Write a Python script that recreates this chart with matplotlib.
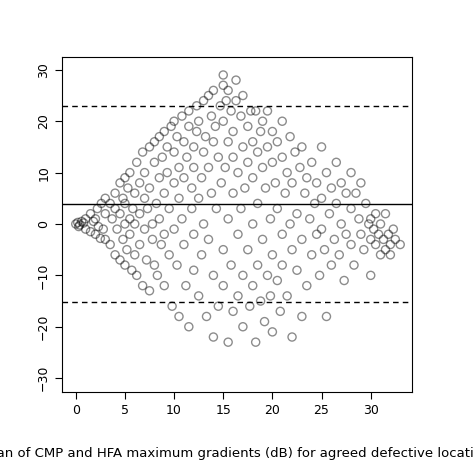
import matplotlib
matplotlib.use("Agg")
import matplotlib.pyplot as plt

points = [
(0,0),(0.2,0.3),(0.4,-0.2),(0.6,0.5),(0.3,-0.5),(0.8,0.2),(1,-1),(1,1),
(1.5,2),(1.5,-1.5),(2,-2),(2,1),(2.2,3),(2.5,-2.8),(2.8,-1),(2.6,4),(1.8,0.5),(2.3,-0.5),(3,2),(3,-3),(3,5),
(3.5,4),(3.5,-4),(3.7,1),(4,6),(4,-6),(4,3),(4.2,-1),(4.5,8),(4.5,-7),(4.5,2),(4.8,-3),(4.8,5),(5,9),(5,-8),(5,0),(5,4),(5.2,-5),(5.3,7),(5.5,1),(5.5,-2),(5.5,10),(5.7,-9),(5.8,3),(6,6),(6,-6),(6,0),
(6.2,12),(6.2,-10),(6.5,8),(6.5,2),(6.5,-4),(6.8,14),(6.8,-12),(7,5),(7,-1),(7,10),(7.2,-7),(7.3,3),(7.5,15),(7.5,-13),(7.5,7),(7.8,0),(7.8,-3),(8,12),(8,16),(8,-8),
(8.2,4),(8.3,-10),(8.5,17),(8.5,9),(8.5,1),(8.7,-4),(8.8,13),(9,18),(9,6),(9,-2),(9,-12),(9.3,15),(9.3,10),(9.5,3),(9.5,-6),(9.7,19),(9.8,-16),(10,20),(10,8),(10,-1),(10,14),
(10.3,17),(10.3,-8),(10.5,5),(10.5,11),(10.5,-18),(10.8,21),(10.8,1),(11,16),(11,-4),(11,9),(11.2,-12),(11.3,13),(11.5,19),(11.5,22),(11.5,-20),(11.8,3),(11.8,7),(12,15),(12,-2),(12,11),(12,-9),
(12.3,23),(12.3,18),(12.5,20),(12.5,5),(12.5,-14),(12.8,9),(12.8,-6),(13,24),(13,14),(13,0),(13.2,17),(13.3,-18),(13.5,25),(13.5,11),(13.5,-3),(13.8,21),(13.8,6),(14,26),(14,16),(14,-10),(14,-22),
(14.2,19),(14.3,3),(14.5,13),(14.5,-16),(14.7,23),(14.8,8),(15,29),(15,27),(15,20),(15,-5),(15,-12),(15.2,11),(15.3,24),(15.5,26),(15.5,16),(15.5,1),(15.5,-23),(15.8,22),(15.8,-8),(16,18),(16,6),(16,-17),(16,13),
(16.3,28),(16.3,24),(16.5,10),(16.5,-2),(16.5,-14),(16.8,21),(16.8,3),(17,25),(17,15),(17,-10),(17,-20),(17.2,7),(17.5,19),(17.5,12),(17.5,-5),(17.7,-16),(17.8,22),(18,16),(18,0),(18,-12),(18,9),
(18.3,22),(18.3,-23),(18.5,14),(18.5,4),(18.5,-8),(18.8,18),(18.8,-15),(19,11),(19,20),(19,-3),(19.2,-19),(19.3,7),(19.5,15),(19.5,-10),(19.5,22),(19.8,1),(19.8,-14),(20,12),(20,18),(20,-6),(20,-21),
(20.3,8),(20.5,16),(20.5,-11),(20.5,3),(20.8,-17),(21,13),(21,20),(21,-2),(21,-8),(21.3,6),(21.5,10),(21.5,-14),(21.8,17),(21.8,0),(22,-5),(22,8),(22,-22),(22.3,14),(22.5,2),(22.5,-9),(22.8,11),(23,-3),(23,15),(23,-18),
(23.3,6),(23.5,9),(23.5,-12),(23.8,1),(24,12),(24,-6),(24.3,4),(24.5,-2),(24.5,8),(24.8,-10),(25,15),(25,5),(25,-1),(25.3,-5),(25.5,10),(25.5,-18),(25.8,2),(26,7),(26,-8),
(26.3,-3),(26.5,12),(26.5,4),(26.8,-6),(27,8),(27,0),(27.3,-11),(27.5,6),(27.5,-2),(28,10),(28,3),(28,-4),(28.3,-8),(28.5,6),(28.8,1),(29,-2),(29,8),(29.3,-5),(29.5,4),(29.8,0),(30,-3),(30,-10),(30,1),
(30.3,-1),(30.5,-4),(30.5,2),(30.8,-2),(31,-6),(31,0),(31.3,-3),(31.5,-5),(31.5,2),(31.8,-2),(32,-4),(32,-6),(32.3,-1),(32.5,-3),(33,-4),
]
mean_db = [p[0] for p in points]
diff_db = [p[1] for p in points]
bias = 3.9
upper_loa = 23.0
lower_loa = -15.1
x_ticks = [0, 5, 10, 15, 20, 25, 30]
y_ticks = [-30, -20, -10, 0, 10, 20, 30]

fig = plt.figure(figsize=(4.74, 4.74), dpi=100)
ax = fig.add_axes([62/474, 1-392/474, 350/474, 335/474])
ax.scatter(mean_db, diff_db, s=34, facecolors='none', edgecolors=(0, 0, 0, 0.45), linewidths=1.0)
ax.axhline(bias, color='black', lw=1)
ax.axhline(upper_loa, color='black', lw=1, ls=(0, (4, 3)))
ax.axhline(lower_loa, color='black', lw=1, ls=(0, (4, 3)))
ax.set_xlim(-1.4, 34.2)
ax.set_ylim(-32.7, 32.5)
ax.set_xticks(x_ticks)
ax.set_yticks(y_ticks)
ax.tick_params(labelsize=9, direction='out', length=5)
for lbl in ax.get_yticklabels():
    lbl.set_rotation(90)
    lbl.set_va('center')
ax.set_xlabel("Mean of CMP and HFA maximum gradients (dB) for agreed defective locations", fontsize=9.5, labelpad=22)
fig.savefig("out.png", dpi=100)
